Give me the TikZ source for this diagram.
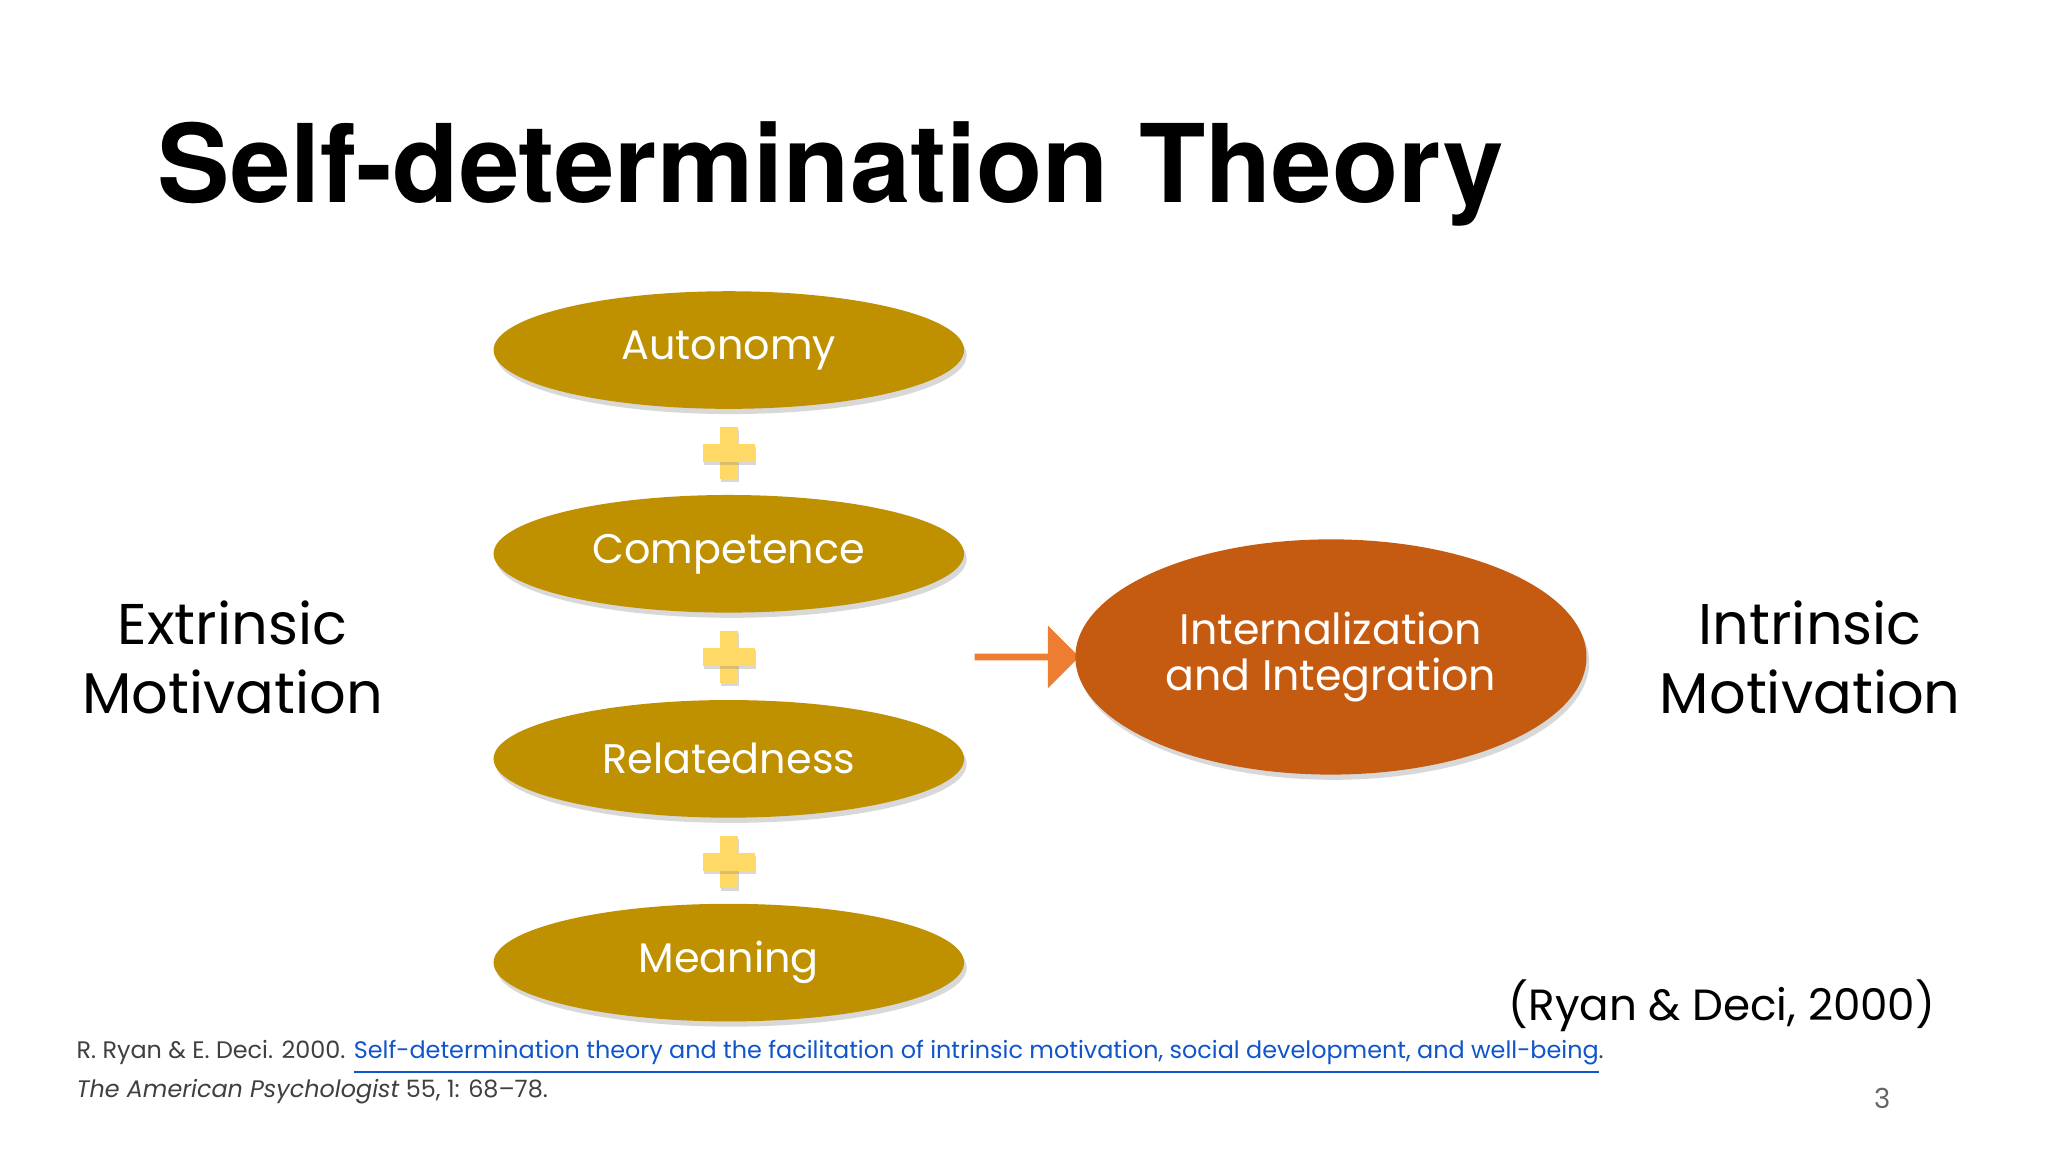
\documentclass[tikz,border=0pt]{standalone}
\usepackage{fontspec}
\setmainfont{Poppins}
\newfontfamily\titlefont{TeX Gyre Heros}
\usetikzlibrary{shapes.geometric,shapes.arrows,shadows}
\definecolor{gold}{HTML}{BF9000}
\definecolor{rust}{HTML}{C55A11}
\definecolor{orng}{HTML}{ED7D31}
\definecolor{plusy}{HTML}{FFD966}
\definecolor{linkb}{HTML}{1155CC}
\begin{document}
\begin{tikzpicture}[x=0.01cm,y=-0.01cm,
  need/.style={ellipse,fill=gold,minimum width=3.6cm,minimum height=0.9cm,text=white,font=\fontsize{9}{11}\selectfont,drop shadow={opacity=0.3,shadow xshift=0.02cm,shadow yshift=-0.04cm}},
  plus/.style={fill=plusy,draw=none,drop shadow={opacity=0.3,shadow xshift=0.01cm,shadow yshift=-0.02cm}},
  side/.style={font=\fontsize{12.5}{15}\selectfont,align=center}]
\useasboundingbox (0,0) rectangle (1568,882);
\fill[white] (0,0) rectangle (1568,882);
\node[anchor=base west,inner sep=0] (title) at (120,155) {\resizebox{10.3cm}{!}{\titlefont\bfseries\fontsize{24}{28}\selectfont Self-determination Theory}};
\node[need] (a) at (558,268) {Autonomy};
\node[need] (c) at (558,424) {Competence};
\node[need] (r) at (558,581) {Relatedness};
\node[need] (m) at (558,737) {Meaning};
\foreach \y/\n in {347/p1,503/p2,660/p3}{
  \path[plus] (551,\y-20) rectangle (565,\y+20);
  \path[plus] (538,\y-7) rectangle (578,\y+7);
  \coordinate (\n) at (558,\y);
}
\node[single arrow,fill=orng,minimum height=0.8cm,minimum width=0.48cm,single arrow head extend=0.06cm,inner sep=0,anchor=center] (arr) at (785,503) {};
\node[ellipse,fill=rust,minimum width=3.78cm,minimum height=1.8cm,text=white,align=center,font=\fontsize{9.3}{10}\selectfont,drop shadow={opacity=0.3,shadow xshift=0.02cm,shadow yshift=-0.04cm}] (ii) at (1019,503) {Internalization\\and Integration};
\node[side] (ext) at (178,503) {Extrinsic\\Motivation};
\node[side] (int) at (1386,503) {Intrinsic\\Motivation};
\node[anchor=base east,font=\fontsize{9.5}{11}\selectfont] (cite) at (1494,781) {(Ryan \& Deci, 2000)};
\node[anchor=base west,font=\fontsize{5.2}{6.4}\selectfont,text=black!75,align=left,inner sep=0] (foot) at (58,840) {R. Ryan \& E. Deci. 2000. \textcolor{linkb}{\underline{Self-determination theory and the facilitation of intrinsic motivation, social development, and well-being}}.\\\textit{The American Psychologist} 55, 1: 68–78.};
\node[font=\fontsize{6}{7}\selectfont,text=black!60] (pg) at (1441,841) {3};
\end{tikzpicture}
\end{document}
